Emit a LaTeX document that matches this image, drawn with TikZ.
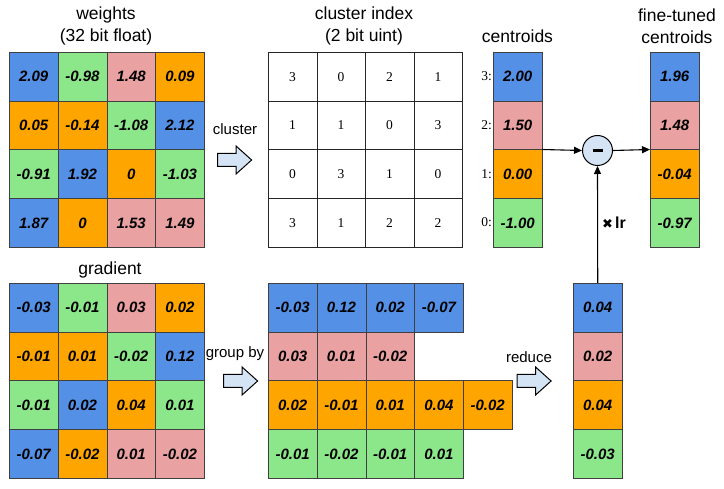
\documentclass[tikz,border=0pt]{standalone}
\usepackage{fontspec}
\setmainfont{Liberation Sans}
\newfontfamily\serifnum{Liberation Serif}
\newfontfamily\dejavu{DejaVu Sans}
\usetikzlibrary{shapes.arrows,arrows.meta}
\definecolor{cB}{RGB}{84,144,230}
\definecolor{cG}{RGB}{140,230,138}
\definecolor{cP}{RGB}{234,161,161}
\definecolor{cO}{RGB}{255,165,0}
\definecolor{cL}{RGB}{212,228,245}
\newcommand\mygridrow[4]{%
  \foreach \c/\t [count=\i from 0] in {#4} {\node[cellbox, fill=\c] (#1-\i) at ({#2+\i*48.75}, #3) {\t};}}
\newcommand\myidxrow[4]{%
  \foreach \t [count=\i from 0] in {#4} {\node[idxbox] (#1-\i) at ({#2+\i*48.5}, #3) {\t};}}
\tikzset{
  cellbox/.style={draw=black!75, line width=0.7pt, minimum width=48.75pt, minimum height=48.75pt,
    inner sep=0pt, anchor=north west, font=\fontsize{15}{17}\selectfont\bfseries\itshape},
  idxbox/.style={draw=black!85, line width=0.7pt, fill=white, minimum width=48.5pt, minimum height=48.75pt,
    inner sep=0pt, anchor=north west, font=\serifnum\fontsize{13.5}{16}\selectfont},
  title/.style={align=center, font=\fontsize{17.5}{22}\selectfont, inner sep=0pt},
  lab/.style={font=\fontsize{15}{18}\selectfont, inner sep=0pt},
  idxlab/.style={font=\serifnum\fontsize{13.5}{16}\selectfont, inner sep=0pt, anchor=east},
  blockarrow/.style={single arrow, draw=black, line width=1pt, fill=cL, minimum height=34pt,
    minimum width=27pt, inner sep=6pt, single arrow head extend=7.5pt, single arrow tip angle=84},
  conn/.style={line width=1.1pt, -{Triangle[length=8pt,width=7pt]}},
}
\begin{document}
\begin{tikzpicture}[x=1pt,y=-1pt]
\useasboundingbox (0,0) rectangle (724,489);
% titles
\node[title] (tw) at (106,26) {weights\\(32 bit float)};
\node[title] (tci) at (364,26) {cluster index\\(2 bit uint)};
\node[title] (tc) at (517.5,36) {centroids};
\node[title] (tf) at (677,26) {fine-tuned\\centroids};
\node[title] (tg) at (110,270) {gradient};
% weights
\mygridrow{w0}{9}{52}{cB/2.09, cG/-0.98, cP/1.48, cO/0.09}
\mygridrow{w1}{9}{100.75}{cO/0.05, cO/-0.14, cG/-1.08, cB/2.12}
\mygridrow{w2}{9}{149.5}{cG/-0.91, cB/1.92, cO/0, cG/-1.03}
\mygridrow{w3}{9}{198.25}{cB/1.87, cO/0, cP/1.53, cP/1.49}
% cluster index
\myidxrow{k0}{268}{52}{3,0,2,1}
\myidxrow{k1}{268}{100.75}{1,1,0,3}
\myidxrow{k2}{268}{149.5}{0,3,1,0}
\myidxrow{k3}{268}{198.25}{3,1,2,2}
% centroids
\node[cellbox, fill=cB] (c3) at (493,52) {2.00};
\node[cellbox, fill=cP] (c2) at (493,100.75) {1.50};
\node[cellbox, fill=cO] (c1) at (493,149.5) {0.00};
\node[cellbox, fill=cG] (c0) at (493,198.25) {-1.00};
\node[idxlab] (l3) at (492,76.4) {3:};
\node[idxlab] (l2) at (492,125.1) {2:};
\node[idxlab] (l1) at (492,173.9) {1:};
\node[idxlab] (l0) at (492,222.6) {0:};
% fine-tuned
\node[cellbox, fill=cB] (f3) at (650,52) {1.96};
\node[cellbox, fill=cP] (f2) at (650,100.75) {1.48};
\node[cellbox, fill=cO] (f1) at (650,149.5) {-0.04};
\node[cellbox, fill=cG] (f0) at (650,198.25) {-0.97};
% gradient
\mygridrow{g0}{9}{283}{cB/-0.03, cG/-0.01, cP/0.03, cO/0.02}
\mygridrow{g1}{9}{331.75}{cO/-0.01, cO/0.01, cG/-0.02, cB/0.12}
\mygridrow{g2}{9}{380.5}{cG/-0.01, cB/0.02, cO/0.04, cG/0.01}
\mygridrow{g3}{9}{429.25}{cB/-0.07, cO/-0.02, cP/0.01, cP/-0.02}
% grouped
\mygridrow{q0}{268}{283}{cB/-0.03, cB/0.12, cB/0.02, cB/-0.07}
\mygridrow{q1}{268}{331.75}{cP/0.03, cP/0.01, cP/-0.02}
\mygridrow{q2}{268}{380.5}{cO/0.02, cO/-0.01, cO/0.01, cO/0.04, cO/-0.02}
\mygridrow{q3}{268}{429.25}{cG/-0.01, cG/-0.02, cG/-0.01, cG/0.01}
% reduced
\node[cellbox, fill=cB] (r3) at (573,283) {0.04};
\node[cellbox, fill=cP] (r2) at (573,331.75) {0.02};
\node[cellbox, fill=cO] (r1) at (573,380.5) {0.04};
\node[cellbox, fill=cG] (r0) at (573,429.25) {-0.03};
% block arrows and labels
\node[lab] (lcl) at (235,129) {cluster};
\node[blockarrow] (a1) at (231,160) {};
\node[lab] (lgb) at (235,354) {group by};
\node[blockarrow] (a2) at (237,381) {};
\node[lab] (lrd) at (529,357) {reduce};
\node[blockarrow] (a3) at (530.5,381) {};
% minus circle
\node[circle, draw=black, line width=1pt, fill=cL, minimum size=30pt, inner sep=0pt] (m) at (597.5,150.5)
  {\rule[-1.75pt]{10pt}{3.5pt}};
\draw[conn] (c1.north east) -- (m.west);
\draw[conn] (m.east) -- (f1.north west);
\draw[conn] (r3.north) -- (m.south);
\node[anchor=west, inner sep=0pt] (lr) at (602,223) {{\dejavu\fontsize{13}{15}\selectfont ✖}\kern2pt{\fontsize{16}{18}\selectfont\bfseries lr}};
\end{tikzpicture}
\end{document}
